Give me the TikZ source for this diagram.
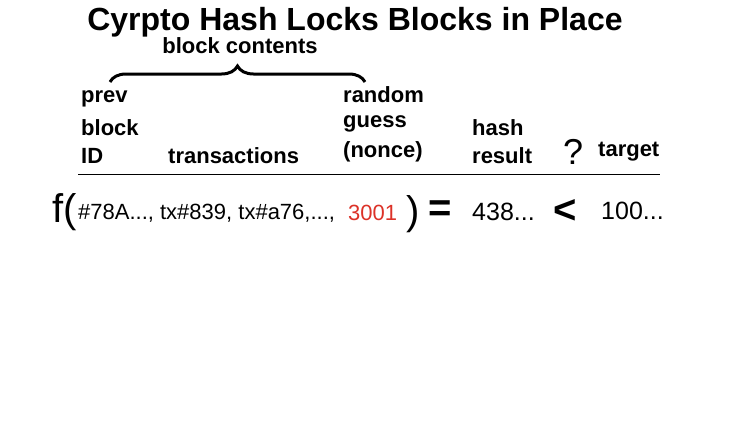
\documentclass[tikz,border=0pt]{standalone}
\usepackage{fontspec}
\setmainfont{Liberation Sans}
\usetikzlibrary{decorations.pathreplacing}
\begin{document}
\begin{tikzpicture}[x=1pt,y=-1pt,
  lbl/.style={anchor=west,font=\bfseries\fontsize{22}{22}\selectfont,inner sep=0},
  frm/.style={anchor=west,font=\fontsize{22}{22}\selectfont,inner sep=0},
  big/.style={anchor=west,font=\fontsize{40}{40}\selectfont,inner sep=0}]
\useasboundingbox (0,0) rectangle (744,429);
\node[font=\bfseries\fontsize{32}{32}\selectfont] (title) at (355,22) {Cyrpto Hash Locks Blocks in Place};
\coordinate (bl) at (110,82); \coordinate (br) at (365,82);
\draw[line width=3pt,decorate,decoration={brace,amplitude=16pt}] (bl) -- (br);
\node[font=\bfseries\fontsize{22}{22}\selectfont] (bc) at (240,46) {block contents};
\node[lbl] (p1) at (81,99) {prev};
\node[lbl] (p2) at (81,128) {block};
\node[lbl] (p3) at (81,156) {ID};
\node[lbl] (tx) at (168,156) {transactions};
\node[lbl] (r1) at (343,95) {random};
\node[lbl] (r2) at (343,124) {guess};
\node[lbl] (r3) at (343,152) {(nonce)};
\node[lbl] (h1) at (472,128) {hash};
\node[lbl] (h2) at (472,156) {result};
\node[anchor=west,inner sep=0,font=\fontsize{36}{36}\selectfont] (q) at (563,152) {?};
\node[lbl] (tg) at (598,152) {target};
\coordinate (l1) at (78,174); \coordinate (l2) at (660,174);
\draw[line width=0.8pt] (l1) -- (l2);
\node[big] (f) at (52,212) {f(};
\node[frm] (args) at (78,213) {\#78A..., tx\#839, tx\#a76,...,};
\node[frm,text={rgb,255:red,220;green,50;blue,40}] (n) at (348,213) {3001};
\node[big] (cp) at (406,214) {)};
\node[big,font=\bfseries\fontsize{40}{40}\selectfont] (eq) at (428,211) {=};
\node[frm,font=\fontsize{25}{25}\selectfont] (hr) at (472,212) {438...};
\node[big,font=\bfseries\fontsize{40}{40}\selectfont] (lt) at (553,211) {<};
\node[frm,font=\fontsize{25}{25}\selectfont] (tv) at (601,211) {100...};
\end{tikzpicture}
\end{document}
